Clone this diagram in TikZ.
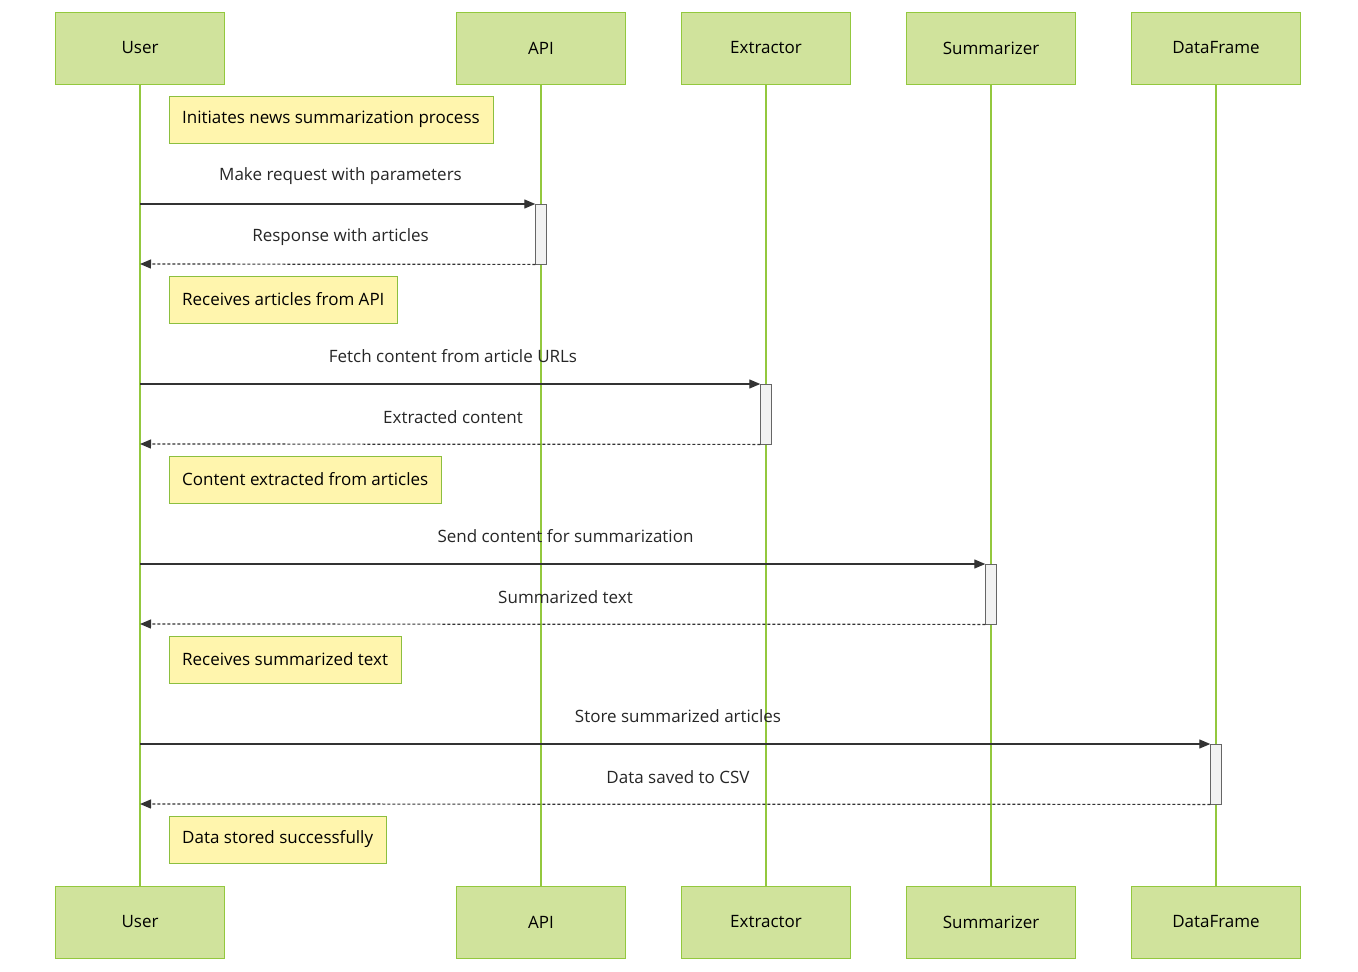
\documentclass[tikz,border=0pt]{standalone}
\usepackage{fontspec}
\setmainfont{Open Sans}
\usetikzlibrary{arrows.meta}
\usetikzlibrary{calc}
\usetikzlibrary{positioning}
\definecolor{actfill}{HTML}{D0E39C}
\definecolor{actline}{HTML}{93C83E}
\definecolor{notefill}{HTML}{FFF5AD}
\definecolor{noteline}{HTML}{8CBF3F}
\tikzset{
  actor/.style={draw=actline,fill=actfill,minimum width=169pt,minimum height=72pt,font=\fontsize{17}{20}\selectfont},
  note/.style={draw=noteline,fill=notefill,minimum height=47pt,anchor=west,inner xsep=13pt,font=\fontsize{17}{20}\selectfont},
  msg/.style={draw=black!80,line width=1.2pt,-{Triangle[length=11pt,width=9pt]}},
  reply/.style={msg,densely dashed},
  act/.style={draw=black!60,fill=black!5,minimum width=11pt,minimum height=60pt,inner sep=0pt,anchor=north},
  lbl/.style={font=\fontsize{17}{20}\selectfont,text=black!85}
}
\begin{document}
\begin{tikzpicture}[x=1pt,y=-1pt]
  \useasboundingbox (0,0) rectangle (1358,972);
  % participants
  \foreach \name/\x/\txt in {user/140/User,api/541/API,ext/766/Extractor,sum/991/Summarizer,df/1216/DataFrame}{
    \draw[actline,line width=1.5pt] (\x,84) -- (\x,886);
    \node[actor] (\name top) at (\x,48) {\txt};
    \node[actor] (\name bot) at (\x,922) {\txt};
  }
  % notes
  \node[note] (n1) at (169,119.5) {Initiates news summarization process};
  \node[note] (n2) at (169,299.5) {Receives articles from API};
  \node[note] (n3) at (169,479.5) {Content extracted from articles};
  \node[note] (n4) at (169,659.5) {Receives summarized text};
  \node[note] (n5) at (169,839.5) {Data stored successfully};
  % messages
  \foreach \name/\x/\y/\req/\res in {
      a/541/204/Make request with parameters/Response with articles,
      b/766/384/Fetch content from article URLs/Extracted content,
      c/991/564/Send content for summarization/Summarized text,
      d/1216/744/Store summarized articles/Data saved to CSV}{
    \coordinate (from \name) at (140,\y);
    \coordinate (back \name) at (140,\y+60);
    \node[act] (box \name) at (\x,\y) {};
    \draw[msg] (from \name) -- (box \name.north west);
    \draw[reply] (box \name.south west) -- (back \name);
    \node[lbl] at ($(140,\y)!0.5!(\x,\y)+(0,-28)$) {\req};
    \node[lbl] at ($(140,\y+60)!0.5!(\x,\y+60)+(0,-27)$) {\res};
  }
\end{tikzpicture}
\end{document}
